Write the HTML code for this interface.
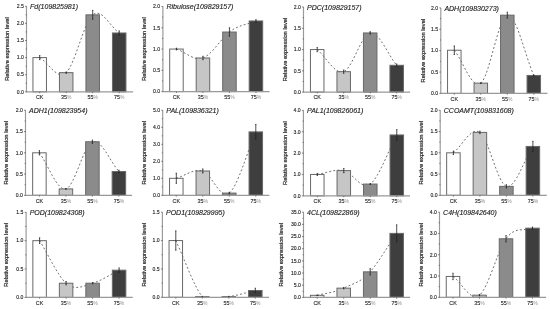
<!DOCTYPE html>
<html><head><meta charset="utf-8"><style>
html,body{margin:0;padding:0;background:#fff;}
body{width:550px;height:309px;overflow:hidden;}
svg{display:block;filter:blur(0.3px);}
</style></head><body>
<svg width="550" height="309" viewBox="0 0 550 309" font-family="'Liberation Sans', Arial, sans-serif" fill="#1c1c1c">
<defs><clipPath id="c0"><rect x="26.50" y="0" width="106.60" height="91.40"/></clipPath><clipPath id="c1"><rect x="162.90" y="0" width="106.60" height="91.20"/></clipPath><clipPath id="c2"><rect x="303.50" y="0" width="106.60" height="91.70"/></clipPath><clipPath id="c3"><rect x="440.80" y="0" width="106.60" height="93.00"/></clipPath><clipPath id="c4"><rect x="25.50" y="0" width="106.60" height="194.90"/></clipPath><clipPath id="c5"><rect x="162.70" y="0" width="106.60" height="194.90"/></clipPath><clipPath id="c6"><rect x="303.40" y="0" width="106.60" height="195.40"/></clipPath><clipPath id="c7"><rect x="440.20" y="0" width="106.60" height="194.90"/></clipPath><clipPath id="c8"><rect x="26.10" y="0" width="106.60" height="297.00"/></clipPath><clipPath id="c9"><rect x="162.40" y="0" width="106.60" height="296.90"/></clipPath><clipPath id="c10"><rect x="303.50" y="0" width="106.60" height="297.00"/></clipPath><clipPath id="c11"><rect x="439.50" y="0" width="106.60" height="296.90"/></clipPath></defs>
<rect width="550" height="309" fill="#fff"/>
<path d="M39.70 57.60C48.53 62.62 57.37 80.84 66.20 72.65C75.03 64.45 83.87 22.45 92.70 14.85C101.53 7.25 110.37 26.93 119.20 32.98" clip-path="url(#c0)" stroke="#4a4a4a" stroke-width="0.8" fill="none" stroke-dasharray="1.9 2.2"/>
<rect x="32.95" y="57.60" width="13.50" height="34.20" fill="none" stroke="#686868" stroke-width="1.0"/>
<rect x="59.45" y="72.65" width="13.50" height="19.15" fill="#c6c6c6" stroke="#686868" stroke-width="1.0"/>
<rect x="85.95" y="14.85" width="13.50" height="76.95" fill="#8b8b8b" stroke="#686868" stroke-width="1.0"/>
<rect x="112.45" y="32.98" width="13.50" height="58.82" fill="#3e3e3e" stroke="#686868" stroke-width="1.0"/>
<path d="M39.70 55.55V59.65M39.10 55.55H40.30M39.10 59.65H40.30" stroke="#222" stroke-width="0.8" fill="none"/>
<path d="M66.20 71.96V73.33M65.60 71.96H66.80M65.60 73.33H66.80" stroke="#222" stroke-width="0.8" fill="none"/>
<path d="M92.70 10.40V19.30M92.10 10.40H93.30M92.10 19.30H93.30" stroke="#222" stroke-width="0.8" fill="none"/>
<path d="M119.20 30.92V35.03M118.60 30.92H119.80M118.60 35.03H119.80" stroke="#222" stroke-width="0.8" fill="none"/>
<path d="M26.50 6.30V91.80H133.10" stroke="#999999" stroke-width="1.15" fill="none"/>
<text x="23.80" y="93.55" text-anchor="end" font-size="5.1" stroke="#1c1c1c" stroke-width="0.12">0.0</text>
<text x="23.80" y="76.45" text-anchor="end" font-size="5.1" stroke="#1c1c1c" stroke-width="0.12">0.5</text>
<text x="23.80" y="59.35" text-anchor="end" font-size="5.1" stroke="#1c1c1c" stroke-width="0.12">1.0</text>
<text x="23.80" y="42.25" text-anchor="end" font-size="5.1" stroke="#1c1c1c" stroke-width="0.12">1.5</text>
<text x="23.80" y="25.15" text-anchor="end" font-size="5.1" stroke="#1c1c1c" stroke-width="0.12">2.0</text>
<text x="23.80" y="8.05" text-anchor="end" font-size="5.1" stroke="#1c1c1c" stroke-width="0.12">2.5</text>
<path d="M25.00 91.80H26.70 M25.60 83.25H26.70 M25.00 74.70H26.70 M25.60 66.15H26.70 M25.00 57.60H26.70 M25.60 49.05H26.70 M25.00 40.50H26.70 M25.60 31.95H26.70 M25.00 23.40H26.70 M25.60 14.85H26.70 M25.00 6.30H26.70 M39.70 91.80V93.20 M66.20 91.80V93.20 M92.70 91.80V93.20 M119.20 91.80V93.20" stroke="#555" stroke-width="0.7" fill="none"/>
<text x="39.70" y="99.10" text-anchor="middle" font-size="5.4" stroke="#1c1c1c" stroke-width="0.1">CK</text>
<text x="66.20" y="99.10" text-anchor="middle" font-size="5.4" stroke="#1c1c1c" stroke-width="0.1">35<tspan fill="#8f8f8f" stroke="none" font-size="5.0">%</tspan></text>
<text x="92.70" y="99.10" text-anchor="middle" font-size="5.4" stroke="#1c1c1c" stroke-width="0.1">55<tspan fill="#8f8f8f" stroke="none" font-size="5.0">%</tspan></text>
<text x="119.20" y="99.10" text-anchor="middle" font-size="5.4" stroke="#1c1c1c" stroke-width="0.1">75<tspan fill="#8f8f8f" stroke="none" font-size="5.0">%</tspan></text>
<text transform="translate(8.70 49.05) rotate(-90)" text-anchor="middle" font-size="6.2" textLength="63.6" lengthAdjust="spacingAndGlyphs" stroke="#1c1c1c" stroke-width="0.2">Relative expression level</text>
<text x="30.10" y="9.00" font-size="7.0" font-style="italic" stroke="#1c1c1c" stroke-width="0.14">Fd(109825981)</text>
<path d="M176.45 49.05C185.28 52.03 194.12 61.25 202.95 57.99C211.78 54.72 220.62 39.13 229.45 32.03C238.28 24.93 247.12 24.65 255.95 20.97" clip-path="url(#c1)" stroke="#4a4a4a" stroke-width="0.8" fill="none" stroke-dasharray="1.9 2.2"/>
<rect x="169.70" y="49.05" width="13.50" height="42.55" fill="none" stroke="#686868" stroke-width="1.0"/>
<rect x="196.20" y="57.99" width="13.50" height="33.61" fill="#c6c6c6" stroke="#686868" stroke-width="1.0"/>
<rect x="222.70" y="32.03" width="13.50" height="59.57" fill="#8b8b8b" stroke="#686868" stroke-width="1.0"/>
<rect x="249.20" y="20.97" width="13.50" height="70.63" fill="#3e3e3e" stroke="#686868" stroke-width="1.0"/>
<path d="M176.45 48.20V49.90M175.85 48.20H177.05M175.85 49.90H177.05" stroke="#222" stroke-width="0.8" fill="none"/>
<path d="M202.95 56.28V59.69M202.35 56.28H203.55M202.35 59.69H203.55" stroke="#222" stroke-width="0.8" fill="none"/>
<path d="M229.45 27.77V36.29M228.85 27.77H230.05M228.85 36.29H230.05" stroke="#222" stroke-width="0.8" fill="none"/>
<path d="M255.95 19.69V22.24M255.35 19.69H256.55M255.35 22.24H256.55" stroke="#222" stroke-width="0.8" fill="none"/>
<path d="M162.90 6.50V91.60H269.50" stroke="#999999" stroke-width="1.15" fill="none"/>
<text x="160.20" y="93.35" text-anchor="end" font-size="5.1" stroke="#1c1c1c" stroke-width="0.12">0.0</text>
<text x="160.20" y="72.07" text-anchor="end" font-size="5.1" stroke="#1c1c1c" stroke-width="0.12">0.5</text>
<text x="160.20" y="50.80" text-anchor="end" font-size="5.1" stroke="#1c1c1c" stroke-width="0.12">1.0</text>
<text x="160.20" y="29.52" text-anchor="end" font-size="5.1" stroke="#1c1c1c" stroke-width="0.12">1.5</text>
<text x="160.20" y="8.25" text-anchor="end" font-size="5.1" stroke="#1c1c1c" stroke-width="0.12">2.0</text>
<path d="M161.40 91.60H163.10 M162.00 80.96H163.10 M161.40 70.32H163.10 M162.00 59.69H163.10 M161.40 49.05H163.10 M162.00 38.41H163.10 M161.40 27.77H163.10 M162.00 17.14H163.10 M161.40 6.50H163.10 M176.45 91.60V93.00 M202.95 91.60V93.00 M229.45 91.60V93.00 M255.95 91.60V93.00" stroke="#555" stroke-width="0.7" fill="none"/>
<text x="176.45" y="98.90" text-anchor="middle" font-size="5.4" stroke="#1c1c1c" stroke-width="0.1">CK</text>
<text x="202.95" y="98.90" text-anchor="middle" font-size="5.4" stroke="#1c1c1c" stroke-width="0.1">35<tspan fill="#8f8f8f" stroke="none" font-size="5.0">%</tspan></text>
<text x="229.45" y="98.90" text-anchor="middle" font-size="5.4" stroke="#1c1c1c" stroke-width="0.1">55<tspan fill="#8f8f8f" stroke="none" font-size="5.0">%</tspan></text>
<text x="255.95" y="98.90" text-anchor="middle" font-size="5.4" stroke="#1c1c1c" stroke-width="0.1">75<tspan fill="#8f8f8f" stroke="none" font-size="5.0">%</tspan></text>
<text transform="translate(145.80 49.05) rotate(-90)" text-anchor="middle" font-size="6.2" textLength="63.6" lengthAdjust="spacingAndGlyphs" stroke="#1c1c1c" stroke-width="0.2">Relative expression level</text>
<text x="166.50" y="9.20" font-size="7.0" font-style="italic" stroke="#1c1c1c" stroke-width="0.14">Ribulose(109829157)</text>
<path d="M317.20 49.55C326.03 56.93 334.87 74.86 343.70 71.68C352.53 68.50 361.37 34.18 370.20 32.96C379.03 31.73 387.87 54.51 396.70 65.29" clip-path="url(#c2)" stroke="#4a4a4a" stroke-width="0.8" fill="none" stroke-dasharray="1.9 2.2"/>
<rect x="310.45" y="49.55" width="13.50" height="42.55" fill="none" stroke="#686868" stroke-width="1.0"/>
<rect x="336.95" y="71.68" width="13.50" height="20.42" fill="#c6c6c6" stroke="#686868" stroke-width="1.0"/>
<rect x="363.45" y="32.96" width="13.50" height="59.14" fill="#8b8b8b" stroke="#686868" stroke-width="1.0"/>
<rect x="389.95" y="65.29" width="13.50" height="26.81" fill="#3e3e3e" stroke="#686868" stroke-width="1.0"/>
<path d="M317.20 47.42V51.68M316.60 47.42H317.80M316.60 51.68H317.80" stroke="#222" stroke-width="0.8" fill="none"/>
<path d="M343.70 69.97V73.38M343.10 69.97H344.30M343.10 73.38H344.30" stroke="#222" stroke-width="0.8" fill="none"/>
<path d="M370.20 31.68V34.23M369.60 31.68H370.80M369.60 34.23H370.80" stroke="#222" stroke-width="0.8" fill="none"/>
<path d="M396.70 64.02V66.57M396.10 64.02H397.30M396.10 66.57H397.30" stroke="#222" stroke-width="0.8" fill="none"/>
<path d="M303.50 7.00V92.10H410.10" stroke="#999999" stroke-width="1.15" fill="none"/>
<text x="300.80" y="93.85" text-anchor="end" font-size="5.1" stroke="#1c1c1c" stroke-width="0.12">0.0</text>
<text x="300.80" y="72.57" text-anchor="end" font-size="5.1" stroke="#1c1c1c" stroke-width="0.12">0.5</text>
<text x="300.80" y="51.30" text-anchor="end" font-size="5.1" stroke="#1c1c1c" stroke-width="0.12">1.0</text>
<text x="300.80" y="30.02" text-anchor="end" font-size="5.1" stroke="#1c1c1c" stroke-width="0.12">1.5</text>
<text x="300.80" y="8.75" text-anchor="end" font-size="5.1" stroke="#1c1c1c" stroke-width="0.12">2.0</text>
<path d="M302.00 92.10H303.70 M302.60 81.46H303.70 M302.00 70.82H303.70 M302.60 60.19H303.70 M302.00 49.55H303.70 M302.60 38.91H303.70 M302.00 28.27H303.70 M302.60 17.64H303.70 M302.00 7.00H303.70 M317.20 92.10V93.50 M343.70 92.10V93.50 M370.20 92.10V93.50 M396.70 92.10V93.50" stroke="#555" stroke-width="0.7" fill="none"/>
<text x="317.20" y="99.40" text-anchor="middle" font-size="5.4" stroke="#1c1c1c" stroke-width="0.1">CK</text>
<text x="343.70" y="99.40" text-anchor="middle" font-size="5.4" stroke="#1c1c1c" stroke-width="0.1">35<tspan fill="#8f8f8f" stroke="none" font-size="5.0">%</tspan></text>
<text x="370.20" y="99.40" text-anchor="middle" font-size="5.4" stroke="#1c1c1c" stroke-width="0.1">55<tspan fill="#8f8f8f" stroke="none" font-size="5.0">%</tspan></text>
<text x="396.70" y="99.40" text-anchor="middle" font-size="5.4" stroke="#1c1c1c" stroke-width="0.1">75<tspan fill="#8f8f8f" stroke="none" font-size="5.0">%</tspan></text>
<text transform="translate(286.80 49.55) rotate(-90)" text-anchor="middle" font-size="6.2" textLength="63.6" lengthAdjust="spacingAndGlyphs" stroke="#1c1c1c" stroke-width="0.2">Relative expression level</text>
<text x="307.10" y="9.70" font-size="7.0" font-style="italic" stroke="#1c1c1c" stroke-width="0.14">PDC(109829157)</text>
<path d="M454.30 50.22C463.13 61.20 471.97 89.86 480.80 83.14C489.63 76.42 498.47 16.64 507.30 15.17C516.13 13.69 524.97 55.35 533.80 75.45" clip-path="url(#c3)" stroke="#4a4a4a" stroke-width="0.8" fill="none" stroke-dasharray="1.9 2.2"/>
<rect x="447.55" y="50.22" width="13.50" height="43.18" fill="none" stroke="#686868" stroke-width="1.0"/>
<rect x="474.05" y="83.14" width="13.50" height="10.26" fill="#c6c6c6" stroke="#686868" stroke-width="1.0"/>
<rect x="500.55" y="15.17" width="13.50" height="78.23" fill="#8b8b8b" stroke="#686868" stroke-width="1.0"/>
<rect x="527.05" y="75.45" width="13.50" height="17.95" fill="#3e3e3e" stroke="#686868" stroke-width="1.0"/>
<path d="M454.30 45.95V54.50M453.70 45.95H454.90M453.70 54.50H454.90" stroke="#222" stroke-width="0.8" fill="none"/>
<path d="M480.80 82.71V83.57M480.20 82.71H481.40M480.20 83.57H481.40" stroke="#222" stroke-width="0.8" fill="none"/>
<path d="M507.30 12.17V18.16M506.70 12.17H507.90M506.70 18.16H507.90" stroke="#222" stroke-width="0.8" fill="none"/>
<path d="M533.80 75.02V75.87M533.20 75.02H534.40M533.20 75.87H534.40" stroke="#222" stroke-width="0.8" fill="none"/>
<path d="M440.80 7.90V93.40H547.40" stroke="#999999" stroke-width="1.15" fill="none"/>
<text x="438.10" y="95.15" text-anchor="end" font-size="5.1" stroke="#1c1c1c" stroke-width="0.12">0.0</text>
<text x="438.10" y="73.78" text-anchor="end" font-size="5.1" stroke="#1c1c1c" stroke-width="0.12">0.5</text>
<text x="438.10" y="52.40" text-anchor="end" font-size="5.1" stroke="#1c1c1c" stroke-width="0.12">1.0</text>
<text x="438.10" y="31.03" text-anchor="end" font-size="5.1" stroke="#1c1c1c" stroke-width="0.12">1.5</text>
<text x="438.10" y="9.65" text-anchor="end" font-size="5.1" stroke="#1c1c1c" stroke-width="0.12">2.0</text>
<path d="M439.30 93.40H441.00 M439.90 82.71H441.00 M439.30 72.03H441.00 M439.90 61.34H441.00 M439.30 50.65H441.00 M439.90 39.96H441.00 M439.30 29.28H441.00 M439.90 18.59H441.00 M439.30 7.90H441.00 M454.30 93.40V94.80 M480.80 93.40V94.80 M507.30 93.40V94.80 M533.80 93.40V94.80" stroke="#555" stroke-width="0.7" fill="none"/>
<text x="454.30" y="100.70" text-anchor="middle" font-size="5.4" stroke="#1c1c1c" stroke-width="0.1">CK</text>
<text x="480.80" y="100.70" text-anchor="middle" font-size="5.4" stroke="#1c1c1c" stroke-width="0.1">35<tspan fill="#8f8f8f" stroke="none" font-size="5.0">%</tspan></text>
<text x="507.30" y="100.70" text-anchor="middle" font-size="5.4" stroke="#1c1c1c" stroke-width="0.1">55<tspan fill="#8f8f8f" stroke="none" font-size="5.0">%</tspan></text>
<text x="533.80" y="100.70" text-anchor="middle" font-size="5.4" stroke="#1c1c1c" stroke-width="0.1">75<tspan fill="#8f8f8f" stroke="none" font-size="5.0">%</tspan></text>
<text transform="translate(424.50 50.65) rotate(-90)" text-anchor="middle" font-size="6.2" textLength="63.6" lengthAdjust="spacingAndGlyphs" stroke="#1c1c1c" stroke-width="0.2">Relative expression level</text>
<text x="444.40" y="10.60" font-size="7.0" font-style="italic" stroke="#1c1c1c" stroke-width="0.14">ADH(109830273)</text>
<path d="M39.40 152.80C48.23 164.84 57.07 191.04 65.90 188.93C74.73 186.81 83.57 145.09 92.40 141.75C101.23 138.41 110.07 161.58 118.90 171.50" clip-path="url(#c4)" stroke="#4a4a4a" stroke-width="0.8" fill="none" stroke-dasharray="1.9 2.2"/>
<rect x="32.65" y="152.80" width="13.50" height="42.50" fill="none" stroke="#686868" stroke-width="1.0"/>
<rect x="59.15" y="188.93" width="13.50" height="6.38" fill="#c6c6c6" stroke="#686868" stroke-width="1.0"/>
<rect x="85.65" y="141.75" width="13.50" height="53.55" fill="#8b8b8b" stroke="#686868" stroke-width="1.0"/>
<rect x="112.15" y="171.50" width="13.50" height="23.80" fill="#3e3e3e" stroke="#686868" stroke-width="1.0"/>
<path d="M39.40 150.68V154.93M38.80 150.68H40.00M38.80 154.93H40.00" stroke="#222" stroke-width="0.8" fill="none"/>
<path d="M65.90 188.50V189.35M65.30 188.50H66.50M65.30 189.35H66.50" stroke="#222" stroke-width="0.8" fill="none"/>
<path d="M92.40 140.05V143.45M91.80 140.05H93.00M91.80 143.45H93.00" stroke="#222" stroke-width="0.8" fill="none"/>
<path d="M118.90 170.22V172.78M118.30 170.22H119.50M118.30 172.78H119.50" stroke="#222" stroke-width="0.8" fill="none"/>
<path d="M25.50 110.30V195.30H132.10" stroke="#999999" stroke-width="1.15" fill="none"/>
<text x="22.80" y="197.05" text-anchor="end" font-size="5.1" stroke="#1c1c1c" stroke-width="0.12">0.0</text>
<text x="22.80" y="175.80" text-anchor="end" font-size="5.1" stroke="#1c1c1c" stroke-width="0.12">0.5</text>
<text x="22.80" y="154.55" text-anchor="end" font-size="5.1" stroke="#1c1c1c" stroke-width="0.12">1.0</text>
<text x="22.80" y="133.30" text-anchor="end" font-size="5.1" stroke="#1c1c1c" stroke-width="0.12">1.5</text>
<text x="22.80" y="112.05" text-anchor="end" font-size="5.1" stroke="#1c1c1c" stroke-width="0.12">2.0</text>
<path d="M24.00 195.30H25.70 M24.60 184.68H25.70 M24.00 174.05H25.70 M24.60 163.43H25.70 M24.00 152.80H25.70 M24.60 142.18H25.70 M24.00 131.55H25.70 M24.60 120.92H25.70 M24.00 110.30H25.70 M39.40 195.30V196.70 M65.90 195.30V196.70 M92.40 195.30V196.70 M118.90 195.30V196.70" stroke="#555" stroke-width="0.7" fill="none"/>
<text x="39.40" y="202.60" text-anchor="middle" font-size="5.4" stroke="#1c1c1c" stroke-width="0.1">CK</text>
<text x="65.90" y="202.60" text-anchor="middle" font-size="5.4" stroke="#1c1c1c" stroke-width="0.1">35<tspan fill="#8f8f8f" stroke="none" font-size="5.0">%</tspan></text>
<text x="92.40" y="202.60" text-anchor="middle" font-size="5.4" stroke="#1c1c1c" stroke-width="0.1">55<tspan fill="#8f8f8f" stroke="none" font-size="5.0">%</tspan></text>
<text x="118.90" y="202.60" text-anchor="middle" font-size="5.4" stroke="#1c1c1c" stroke-width="0.1">75<tspan fill="#8f8f8f" stroke="none" font-size="5.0">%</tspan></text>
<text transform="translate(8.00 152.80) rotate(-90)" text-anchor="middle" font-size="6.2" textLength="63.6" lengthAdjust="spacingAndGlyphs" stroke="#1c1c1c" stroke-width="0.2">Relative expression level</text>
<text x="29.10" y="113.00" font-size="7.0" font-style="italic" stroke="#1c1c1c" stroke-width="0.14">ADH1(109823954)</text>
<path d="M176.30 178.30C185.13 175.86 193.97 168.16 202.80 170.99C211.63 173.82 220.47 200.58 229.30 193.09C238.13 185.60 246.97 152.29 255.80 131.89" clip-path="url(#c5)" stroke="#4a4a4a" stroke-width="0.8" fill="none" stroke-dasharray="1.9 2.2"/>
<rect x="169.55" y="178.30" width="13.50" height="17.00" fill="none" stroke="#686868" stroke-width="1.0"/>
<rect x="196.05" y="170.99" width="13.50" height="24.31" fill="#c6c6c6" stroke="#686868" stroke-width="1.0"/>
<rect x="222.55" y="193.09" width="13.50" height="2.21" fill="#8b8b8b" stroke="#686868" stroke-width="1.0"/>
<rect x="249.05" y="131.89" width="13.50" height="63.41" fill="#3e3e3e" stroke="#686868" stroke-width="1.0"/>
<path d="M176.30 173.20V183.40M175.70 173.20H176.90M175.70 183.40H176.90" stroke="#222" stroke-width="0.8" fill="none"/>
<path d="M202.80 168.95V173.03M202.20 168.95H203.40M202.20 173.03H203.40" stroke="#222" stroke-width="0.8" fill="none"/>
<path d="M229.30 192.24V193.94M228.70 192.24H229.90M228.70 193.94H229.90" stroke="#222" stroke-width="0.8" fill="none"/>
<path d="M255.80 124.41V139.37M255.20 124.41H256.40M255.20 139.37H256.40" stroke="#222" stroke-width="0.8" fill="none"/>
<path d="M162.70 110.30V195.30H269.30" stroke="#999999" stroke-width="1.15" fill="none"/>
<text x="160.00" y="197.05" text-anchor="end" font-size="5.1" stroke="#1c1c1c" stroke-width="0.12">0.0</text>
<text x="160.00" y="180.05" text-anchor="end" font-size="5.1" stroke="#1c1c1c" stroke-width="0.12">1.0</text>
<text x="160.00" y="163.05" text-anchor="end" font-size="5.1" stroke="#1c1c1c" stroke-width="0.12">2.0</text>
<text x="160.00" y="146.05" text-anchor="end" font-size="5.1" stroke="#1c1c1c" stroke-width="0.12">3.0</text>
<text x="160.00" y="129.05" text-anchor="end" font-size="5.1" stroke="#1c1c1c" stroke-width="0.12">4.0</text>
<text x="160.00" y="112.05" text-anchor="end" font-size="5.1" stroke="#1c1c1c" stroke-width="0.12">5.0</text>
<path d="M161.20 195.30H162.90 M161.80 186.80H162.90 M161.20 178.30H162.90 M161.80 169.80H162.90 M161.20 161.30H162.90 M161.80 152.80H162.90 M161.20 144.30H162.90 M161.80 135.80H162.90 M161.20 127.30H162.90 M161.80 118.80H162.90 M161.20 110.30H162.90 M176.30 195.30V196.70 M202.80 195.30V196.70 M229.30 195.30V196.70 M255.80 195.30V196.70" stroke="#555" stroke-width="0.7" fill="none"/>
<text x="176.30" y="202.60" text-anchor="middle" font-size="5.4" stroke="#1c1c1c" stroke-width="0.1">CK</text>
<text x="202.80" y="202.60" text-anchor="middle" font-size="5.4" stroke="#1c1c1c" stroke-width="0.1">35<tspan fill="#8f8f8f" stroke="none" font-size="5.0">%</tspan></text>
<text x="229.30" y="202.60" text-anchor="middle" font-size="5.4" stroke="#1c1c1c" stroke-width="0.1">55<tspan fill="#8f8f8f" stroke="none" font-size="5.0">%</tspan></text>
<text x="255.80" y="202.60" text-anchor="middle" font-size="5.4" stroke="#1c1c1c" stroke-width="0.1">75<tspan fill="#8f8f8f" stroke="none" font-size="5.0">%</tspan></text>
<text transform="translate(145.70 152.80) rotate(-90)" text-anchor="middle" font-size="6.2" textLength="63.6" lengthAdjust="spacingAndGlyphs" stroke="#1c1c1c" stroke-width="0.2">Relative expression level</text>
<text x="166.30" y="113.00" font-size="7.0" font-style="italic" stroke="#1c1c1c" stroke-width="0.14">PAL(109836321)</text>
<path d="M317.30 174.45C326.13 173.17 334.97 168.77 343.80 170.61C352.63 172.45 361.47 190.89 370.30 184.06C379.13 177.22 387.97 151.32 396.80 134.95" clip-path="url(#c6)" stroke="#4a4a4a" stroke-width="0.8" fill="none" stroke-dasharray="1.9 2.2"/>
<rect x="310.55" y="174.45" width="13.50" height="21.35" fill="none" stroke="#686868" stroke-width="1.0"/>
<rect x="337.05" y="170.61" width="13.50" height="25.19" fill="#c6c6c6" stroke="#686868" stroke-width="1.0"/>
<rect x="363.55" y="184.06" width="13.50" height="11.74" fill="#8b8b8b" stroke="#686868" stroke-width="1.0"/>
<rect x="390.05" y="134.95" width="13.50" height="60.85" fill="#3e3e3e" stroke="#686868" stroke-width="1.0"/>
<path d="M317.30 173.38V175.52M316.70 173.38H317.90M316.70 175.52H317.90" stroke="#222" stroke-width="0.8" fill="none"/>
<path d="M343.80 168.47V172.74M343.20 168.47H344.40M343.20 172.74H344.40" stroke="#222" stroke-width="0.8" fill="none"/>
<path d="M370.30 183.63V184.48M369.70 183.63H370.90M369.70 184.48H370.90" stroke="#222" stroke-width="0.8" fill="none"/>
<path d="M396.80 129.62V140.29M396.20 129.62H397.40M396.20 140.29H397.40" stroke="#222" stroke-width="0.8" fill="none"/>
<path d="M303.40 110.40V195.80H410.00" stroke="#999999" stroke-width="1.15" fill="none"/>
<text x="300.70" y="197.55" text-anchor="end" font-size="5.1" stroke="#1c1c1c" stroke-width="0.12">0.0</text>
<text x="300.70" y="176.20" text-anchor="end" font-size="5.1" stroke="#1c1c1c" stroke-width="0.12">1.0</text>
<text x="300.70" y="154.85" text-anchor="end" font-size="5.1" stroke="#1c1c1c" stroke-width="0.12">2.0</text>
<text x="300.70" y="133.50" text-anchor="end" font-size="5.1" stroke="#1c1c1c" stroke-width="0.12">3.0</text>
<text x="300.70" y="112.15" text-anchor="end" font-size="5.1" stroke="#1c1c1c" stroke-width="0.12">4.0</text>
<path d="M301.90 195.80H303.60 M302.50 185.12H303.60 M301.90 174.45H303.60 M302.50 163.78H303.60 M301.90 153.10H303.60 M302.50 142.43H303.60 M301.90 131.75H303.60 M302.50 121.08H303.60 M301.90 110.40H303.60 M317.30 195.80V197.20 M343.80 195.80V197.20 M370.30 195.80V197.20 M396.80 195.80V197.20" stroke="#555" stroke-width="0.7" fill="none"/>
<text x="317.30" y="203.10" text-anchor="middle" font-size="5.4" stroke="#1c1c1c" stroke-width="0.1">CK</text>
<text x="343.80" y="203.10" text-anchor="middle" font-size="5.4" stroke="#1c1c1c" stroke-width="0.1">35<tspan fill="#8f8f8f" stroke="none" font-size="5.0">%</tspan></text>
<text x="370.30" y="203.10" text-anchor="middle" font-size="5.4" stroke="#1c1c1c" stroke-width="0.1">55<tspan fill="#8f8f8f" stroke="none" font-size="5.0">%</tspan></text>
<text x="396.80" y="203.10" text-anchor="middle" font-size="5.4" stroke="#1c1c1c" stroke-width="0.1">75<tspan fill="#8f8f8f" stroke="none" font-size="5.0">%</tspan></text>
<text transform="translate(286.70 153.10) rotate(-90)" text-anchor="middle" font-size="6.2" textLength="63.6" lengthAdjust="spacingAndGlyphs" stroke="#1c1c1c" stroke-width="0.2">Relative expression level</text>
<text x="307.00" y="113.10" font-size="7.0" font-style="italic" stroke="#1c1c1c" stroke-width="0.14">PAL1(109826061)</text>
<path d="M453.40 152.80C462.23 146.00 471.07 125.96 479.90 132.40C488.73 138.84 497.57 183.69 506.40 186.38C515.23 189.06 524.07 159.74 532.90 146.43" clip-path="url(#c7)" stroke="#4a4a4a" stroke-width="0.8" fill="none" stroke-dasharray="1.9 2.2"/>
<rect x="446.65" y="152.80" width="13.50" height="42.50" fill="none" stroke="#686868" stroke-width="1.0"/>
<rect x="473.15" y="132.40" width="13.50" height="62.90" fill="#c6c6c6" stroke="#686868" stroke-width="1.0"/>
<rect x="499.65" y="186.38" width="13.50" height="8.93" fill="#8b8b8b" stroke="#686868" stroke-width="1.0"/>
<rect x="526.15" y="146.43" width="13.50" height="48.88" fill="#3e3e3e" stroke="#686868" stroke-width="1.0"/>
<path d="M453.40 151.10V154.50M452.80 151.10H454.00M452.80 154.50H454.00" stroke="#222" stroke-width="0.8" fill="none"/>
<path d="M479.90 131.12V133.68M479.30 131.12H480.50M479.30 133.68H480.50" stroke="#222" stroke-width="0.8" fill="none"/>
<path d="M506.40 184.68V188.08M505.80 184.68H507.00M505.80 188.08H507.00" stroke="#222" stroke-width="0.8" fill="none"/>
<path d="M532.90 141.32V151.53M532.30 141.32H533.50M532.30 151.53H533.50" stroke="#222" stroke-width="0.8" fill="none"/>
<path d="M440.20 110.30V195.30H546.80" stroke="#999999" stroke-width="1.15" fill="none"/>
<text x="437.50" y="197.05" text-anchor="end" font-size="5.1" stroke="#1c1c1c" stroke-width="0.12">0.0</text>
<text x="437.50" y="175.80" text-anchor="end" font-size="5.1" stroke="#1c1c1c" stroke-width="0.12">0.5</text>
<text x="437.50" y="154.55" text-anchor="end" font-size="5.1" stroke="#1c1c1c" stroke-width="0.12">1.0</text>
<text x="437.50" y="133.30" text-anchor="end" font-size="5.1" stroke="#1c1c1c" stroke-width="0.12">1.5</text>
<text x="437.50" y="112.05" text-anchor="end" font-size="5.1" stroke="#1c1c1c" stroke-width="0.12">2.0</text>
<path d="M438.70 195.30H440.40 M439.30 184.68H440.40 M438.70 174.05H440.40 M439.30 163.43H440.40 M438.70 152.80H440.40 M439.30 142.18H440.40 M438.70 131.55H440.40 M439.30 120.92H440.40 M438.70 110.30H440.40 M453.40 195.30V196.70 M479.90 195.30V196.70 M506.40 195.30V196.70 M532.90 195.30V196.70" stroke="#555" stroke-width="0.7" fill="none"/>
<text x="453.40" y="202.60" text-anchor="middle" font-size="5.4" stroke="#1c1c1c" stroke-width="0.1">CK</text>
<text x="479.90" y="202.60" text-anchor="middle" font-size="5.4" stroke="#1c1c1c" stroke-width="0.1">35<tspan fill="#8f8f8f" stroke="none" font-size="5.0">%</tspan></text>
<text x="506.40" y="202.60" text-anchor="middle" font-size="5.4" stroke="#1c1c1c" stroke-width="0.1">55<tspan fill="#8f8f8f" stroke="none" font-size="5.0">%</tspan></text>
<text x="532.90" y="202.60" text-anchor="middle" font-size="5.4" stroke="#1c1c1c" stroke-width="0.1">75<tspan fill="#8f8f8f" stroke="none" font-size="5.0">%</tspan></text>
<text transform="translate(423.20 152.80) rotate(-90)" text-anchor="middle" font-size="6.2" textLength="63.6" lengthAdjust="spacingAndGlyphs" stroke="#1c1c1c" stroke-width="0.2">Relative expression level</text>
<text x="443.80" y="113.00" font-size="7.0" font-style="italic" stroke="#1c1c1c" stroke-width="0.14">CCOAMT(109831608)</text>
<path d="M39.60 240.67C48.43 254.85 57.27 275.06 66.10 283.22C74.93 291.37 83.77 285.72 92.60 283.22C101.43 280.72 110.27 274.52 119.10 270.17" clip-path="url(#c8)" stroke="#4a4a4a" stroke-width="0.8" fill="none" stroke-dasharray="1.9 2.2"/>
<rect x="32.85" y="240.67" width="13.50" height="56.73" fill="none" stroke="#686868" stroke-width="1.0"/>
<rect x="59.35" y="283.22" width="13.50" height="14.18" fill="#c6c6c6" stroke="#686868" stroke-width="1.0"/>
<rect x="85.85" y="283.22" width="13.50" height="14.18" fill="#8b8b8b" stroke="#686868" stroke-width="1.0"/>
<rect x="112.35" y="270.17" width="13.50" height="27.23" fill="#3e3e3e" stroke="#686868" stroke-width="1.0"/>
<path d="M39.60 237.83V243.50M39.00 237.83H40.20M39.00 243.50H40.20" stroke="#222" stroke-width="0.8" fill="none"/>
<path d="M66.10 281.51V284.92M65.50 281.51H66.70M65.50 284.92H66.70" stroke="#222" stroke-width="0.8" fill="none"/>
<path d="M92.60 282.65V283.78M92.00 282.65H93.20M92.00 283.78H93.20" stroke="#222" stroke-width="0.8" fill="none"/>
<path d="M119.10 267.90V272.44M118.50 267.90H119.70M118.50 272.44H119.70" stroke="#222" stroke-width="0.8" fill="none"/>
<path d="M26.10 212.30V297.40H132.70" stroke="#999999" stroke-width="1.15" fill="none"/>
<text x="23.40" y="299.15" text-anchor="end" font-size="5.1" stroke="#1c1c1c" stroke-width="0.12">0.0</text>
<text x="23.40" y="270.78" text-anchor="end" font-size="5.1" stroke="#1c1c1c" stroke-width="0.12">0.5</text>
<text x="23.40" y="242.42" text-anchor="end" font-size="5.1" stroke="#1c1c1c" stroke-width="0.12">1.0</text>
<text x="23.40" y="214.05" text-anchor="end" font-size="5.1" stroke="#1c1c1c" stroke-width="0.12">1.5</text>
<path d="M24.60 297.40H26.30 M25.20 283.22H26.30 M24.60 269.03H26.30 M25.20 254.85H26.30 M24.60 240.67H26.30 M25.20 226.48H26.30 M24.60 212.30H26.30 M39.60 297.40V298.80 M66.10 297.40V298.80 M92.60 297.40V298.80 M119.10 297.40V298.80" stroke="#555" stroke-width="0.7" fill="none"/>
<text x="39.60" y="304.70" text-anchor="middle" font-size="5.4" stroke="#1c1c1c" stroke-width="0.1">CK</text>
<text x="66.10" y="304.70" text-anchor="middle" font-size="5.4" stroke="#1c1c1c" stroke-width="0.1">35<tspan fill="#8f8f8f" stroke="none" font-size="5.0">%</tspan></text>
<text x="92.60" y="304.70" text-anchor="middle" font-size="5.4" stroke="#1c1c1c" stroke-width="0.1">55<tspan fill="#8f8f8f" stroke="none" font-size="5.0">%</tspan></text>
<text x="119.10" y="304.70" text-anchor="middle" font-size="5.4" stroke="#1c1c1c" stroke-width="0.1">75<tspan fill="#8f8f8f" stroke="none" font-size="5.0">%</tspan></text>
<text transform="translate(8.20 254.85) rotate(-90)" text-anchor="middle" font-size="6.2" textLength="63.6" lengthAdjust="spacingAndGlyphs" stroke="#1c1c1c" stroke-width="0.2">Relative expression level</text>
<text x="29.70" y="215.00" font-size="7.0" font-style="italic" stroke="#1c1c1c" stroke-width="0.14">POD(109824308)</text>
<path d="M175.80 240.57C184.63 259.25 193.47 285.88 202.30 296.62C211.13 307.36 219.97 297.79 228.80 296.62C237.63 295.44 246.47 292.53 255.30 290.49" clip-path="url(#c9)" stroke="#4a4a4a" stroke-width="0.8" fill="none" stroke-dasharray="1.9 2.2"/>
<rect x="169.05" y="240.57" width="13.50" height="56.73" fill="none" stroke="#686868" stroke-width="1.0"/>
<rect x="195.55" y="296.62" width="13.50" height="0.68" fill="#c6c6c6" stroke="#686868" stroke-width="1.0"/>
<rect x="222.05" y="296.62" width="13.50" height="0.68" fill="#8b8b8b" stroke="#686868" stroke-width="1.0"/>
<rect x="248.55" y="290.49" width="13.50" height="6.81" fill="#3e3e3e" stroke="#686868" stroke-width="1.0"/>
<path d="M175.80 230.92V250.21M175.20 230.92H176.40M175.20 250.21H176.40" stroke="#222" stroke-width="0.8" fill="none"/>
<path d="M202.30 296.34V296.90M201.70 296.34H202.90M201.70 296.90H202.90" stroke="#222" stroke-width="0.8" fill="none"/>
<path d="M228.80 296.34V296.90M228.20 296.34H229.40M228.20 296.90H229.40" stroke="#222" stroke-width="0.8" fill="none"/>
<path d="M255.30 288.22V292.76M254.70 288.22H255.90M254.70 292.76H255.90" stroke="#222" stroke-width="0.8" fill="none"/>
<path d="M162.40 212.20V297.30H269.00" stroke="#999999" stroke-width="1.15" fill="none"/>
<text x="159.70" y="299.05" text-anchor="end" font-size="5.1" stroke="#1c1c1c" stroke-width="0.12">0.0</text>
<text x="159.70" y="270.68" text-anchor="end" font-size="5.1" stroke="#1c1c1c" stroke-width="0.12">0.5</text>
<text x="159.70" y="242.32" text-anchor="end" font-size="5.1" stroke="#1c1c1c" stroke-width="0.12">1.0</text>
<text x="159.70" y="213.95" text-anchor="end" font-size="5.1" stroke="#1c1c1c" stroke-width="0.12">1.5</text>
<path d="M160.90 297.30H162.60 M161.50 283.12H162.60 M160.90 268.93H162.60 M161.50 254.75H162.60 M160.90 240.57H162.60 M161.50 226.38H162.60 M160.90 212.20H162.60 M175.80 297.30V298.70 M202.30 297.30V298.70 M228.80 297.30V298.70 M255.30 297.30V298.70" stroke="#555" stroke-width="0.7" fill="none"/>
<text x="175.80" y="304.60" text-anchor="middle" font-size="5.4" stroke="#1c1c1c" stroke-width="0.1">CK</text>
<text x="202.30" y="304.60" text-anchor="middle" font-size="5.4" stroke="#1c1c1c" stroke-width="0.1">35<tspan fill="#8f8f8f" stroke="none" font-size="5.0">%</tspan></text>
<text x="228.80" y="304.60" text-anchor="middle" font-size="5.4" stroke="#1c1c1c" stroke-width="0.1">55<tspan fill="#8f8f8f" stroke="none" font-size="5.0">%</tspan></text>
<text x="255.30" y="304.60" text-anchor="middle" font-size="5.4" stroke="#1c1c1c" stroke-width="0.1">75<tspan fill="#8f8f8f" stroke="none" font-size="5.0">%</tspan></text>
<text transform="translate(145.70 254.75) rotate(-90)" text-anchor="middle" font-size="6.2" textLength="63.6" lengthAdjust="spacingAndGlyphs" stroke="#1c1c1c" stroke-width="0.2">Relative expression level</text>
<text x="166.00" y="214.90" font-size="7.0" font-style="italic" stroke="#1c1c1c" stroke-width="0.14">POD1(109829995)</text>
<path d="M317.20 295.33C326.03 292.94 334.87 292.65 343.70 288.15C352.53 283.65 361.37 282.34 370.20 271.84C379.03 261.34 387.87 246.20 396.70 233.38" clip-path="url(#c10)" stroke="#4a4a4a" stroke-width="0.8" fill="none" stroke-dasharray="1.9 2.2"/>
<rect x="310.45" y="295.33" width="13.50" height="2.07" fill="none" stroke="#686868" stroke-width="1.0"/>
<rect x="336.95" y="288.15" width="13.50" height="9.25" fill="#c6c6c6" stroke="#686868" stroke-width="1.0"/>
<rect x="363.45" y="271.84" width="13.50" height="25.56" fill="#8b8b8b" stroke="#686868" stroke-width="1.0"/>
<rect x="389.95" y="233.38" width="13.50" height="64.02" fill="#3e3e3e" stroke="#686868" stroke-width="1.0"/>
<path d="M317.20 295.09V295.57M316.60 295.09H317.80M316.60 295.57H317.80" stroke="#222" stroke-width="0.8" fill="none"/>
<path d="M343.70 287.42V288.88M343.10 287.42H344.30M343.10 288.88H344.30" stroke="#222" stroke-width="0.8" fill="none"/>
<path d="M370.20 268.68V275.00M369.60 268.68H370.80M369.60 275.00H370.80" stroke="#222" stroke-width="0.8" fill="none"/>
<path d="M396.70 224.86V241.90M396.10 224.86H397.30M396.10 241.90H397.30" stroke="#222" stroke-width="0.8" fill="none"/>
<path d="M303.50 212.20V297.40H410.10" stroke="#999999" stroke-width="1.15" fill="none"/>
<text x="300.80" y="299.15" text-anchor="end" font-size="5.1" stroke="#1c1c1c" stroke-width="0.12">0.0</text>
<text x="300.80" y="286.98" text-anchor="end" font-size="5.1" stroke="#1c1c1c" stroke-width="0.12">5.0</text>
<text x="300.80" y="274.81" text-anchor="end" font-size="5.1" stroke="#1c1c1c" stroke-width="0.12">10.0</text>
<text x="300.80" y="262.64" text-anchor="end" font-size="5.1" stroke="#1c1c1c" stroke-width="0.12">15.0</text>
<text x="300.80" y="250.46" text-anchor="end" font-size="5.1" stroke="#1c1c1c" stroke-width="0.12">20.0</text>
<text x="300.80" y="238.29" text-anchor="end" font-size="5.1" stroke="#1c1c1c" stroke-width="0.12">25.0</text>
<text x="300.80" y="226.12" text-anchor="end" font-size="5.1" stroke="#1c1c1c" stroke-width="0.12">30.0</text>
<text x="300.80" y="213.95" text-anchor="end" font-size="5.1" stroke="#1c1c1c" stroke-width="0.12">35.0</text>
<path d="M302.00 297.40H303.70 M302.60 291.31H303.70 M302.00 285.23H303.70 M302.60 279.14H303.70 M302.00 273.06H303.70 M302.60 266.97H303.70 M302.00 260.89H303.70 M302.60 254.80H303.70 M302.00 248.71H303.70 M302.60 242.63H303.70 M302.00 236.54H303.70 M302.60 230.46H303.70 M302.00 224.37H303.70 M302.60 218.29H303.70 M302.00 212.20H303.70 M317.20 297.40V298.80 M343.70 297.40V298.80 M370.20 297.40V298.80 M396.70 297.40V298.80" stroke="#555" stroke-width="0.7" fill="none"/>
<text x="317.20" y="304.70" text-anchor="middle" font-size="5.4" stroke="#1c1c1c" stroke-width="0.1">CK</text>
<text x="343.70" y="304.70" text-anchor="middle" font-size="5.4" stroke="#1c1c1c" stroke-width="0.1">35<tspan fill="#8f8f8f" stroke="none" font-size="5.0">%</tspan></text>
<text x="370.20" y="304.70" text-anchor="middle" font-size="5.4" stroke="#1c1c1c" stroke-width="0.1">55<tspan fill="#8f8f8f" stroke="none" font-size="5.0">%</tspan></text>
<text x="396.70" y="304.70" text-anchor="middle" font-size="5.4" stroke="#1c1c1c" stroke-width="0.1">75<tspan fill="#8f8f8f" stroke="none" font-size="5.0">%</tspan></text>
<text transform="translate(283.00 254.80) rotate(-90)" text-anchor="middle" font-size="6.2" textLength="63.6" lengthAdjust="spacingAndGlyphs" stroke="#1c1c1c" stroke-width="0.2">Relative expression level</text>
<text x="307.10" y="214.90" font-size="7.0" font-style="italic" stroke="#1c1c1c" stroke-width="0.14">4CL(109822869)</text>
<path d="M453.00 276.45C461.83 282.69 470.67 302.39 479.50 295.17C488.33 287.95 497.17 251.64 506.00 238.79C514.83 225.95 523.67 231.70 532.50 228.16" clip-path="url(#c11)" stroke="#4a4a4a" stroke-width="0.8" fill="none" stroke-dasharray="1.9 2.2"/>
<rect x="446.25" y="276.45" width="13.50" height="20.85" fill="none" stroke="#686868" stroke-width="1.0"/>
<rect x="472.75" y="295.17" width="13.50" height="2.13" fill="#c6c6c6" stroke="#686868" stroke-width="1.0"/>
<rect x="499.25" y="238.79" width="13.50" height="58.51" fill="#8b8b8b" stroke="#686868" stroke-width="1.0"/>
<rect x="525.75" y="228.16" width="13.50" height="69.14" fill="#3e3e3e" stroke="#686868" stroke-width="1.0"/>
<path d="M453.00 273.26V279.64M452.40 273.26H453.60M452.40 279.64H453.60" stroke="#222" stroke-width="0.8" fill="none"/>
<path d="M479.50 294.53V295.81M478.90 294.53H480.10M478.90 295.81H480.10" stroke="#222" stroke-width="0.8" fill="none"/>
<path d="M506.00 235.60V241.98M505.40 235.60H506.60M505.40 241.98H506.60" stroke="#222" stroke-width="0.8" fill="none"/>
<path d="M532.50 227.09V229.22M531.90 227.09H533.10M531.90 229.22H533.10" stroke="#222" stroke-width="0.8" fill="none"/>
<path d="M439.50 212.20V297.30H546.10" stroke="#999999" stroke-width="1.15" fill="none"/>
<text x="436.80" y="299.05" text-anchor="end" font-size="5.1" stroke="#1c1c1c" stroke-width="0.12">0.0</text>
<text x="436.80" y="277.77" text-anchor="end" font-size="5.1" stroke="#1c1c1c" stroke-width="0.12">1.0</text>
<text x="436.80" y="256.50" text-anchor="end" font-size="5.1" stroke="#1c1c1c" stroke-width="0.12">2.0</text>
<text x="436.80" y="235.22" text-anchor="end" font-size="5.1" stroke="#1c1c1c" stroke-width="0.12">3.0</text>
<text x="436.80" y="213.95" text-anchor="end" font-size="5.1" stroke="#1c1c1c" stroke-width="0.12">4.0</text>
<path d="M438.00 297.30H439.70 M438.60 286.66H439.70 M438.00 276.02H439.70 M438.60 265.39H439.70 M438.00 254.75H439.70 M438.60 244.11H439.70 M438.00 233.47H439.70 M438.60 222.84H439.70 M438.00 212.20H439.70 M453.00 297.30V298.70 M479.50 297.30V298.70 M506.00 297.30V298.70 M532.50 297.30V298.70" stroke="#555" stroke-width="0.7" fill="none"/>
<text x="453.00" y="304.60" text-anchor="middle" font-size="5.4" stroke="#1c1c1c" stroke-width="0.1">CK</text>
<text x="479.50" y="304.60" text-anchor="middle" font-size="5.4" stroke="#1c1c1c" stroke-width="0.1">35<tspan fill="#8f8f8f" stroke="none" font-size="5.0">%</tspan></text>
<text x="506.00" y="304.60" text-anchor="middle" font-size="5.4" stroke="#1c1c1c" stroke-width="0.1">55<tspan fill="#8f8f8f" stroke="none" font-size="5.0">%</tspan></text>
<text x="532.50" y="304.60" text-anchor="middle" font-size="5.4" stroke="#1c1c1c" stroke-width="0.1">75<tspan fill="#8f8f8f" stroke="none" font-size="5.0">%</tspan></text>
<text transform="translate(422.70 254.75) rotate(-90)" text-anchor="middle" font-size="6.2" textLength="63.6" lengthAdjust="spacingAndGlyphs" stroke="#1c1c1c" stroke-width="0.2">Relative expression level</text>
<text x="443.10" y="214.90" font-size="7.0" font-style="italic" stroke="#1c1c1c" stroke-width="0.14">C4H(109842640)</text>
</svg>
</body></html>
